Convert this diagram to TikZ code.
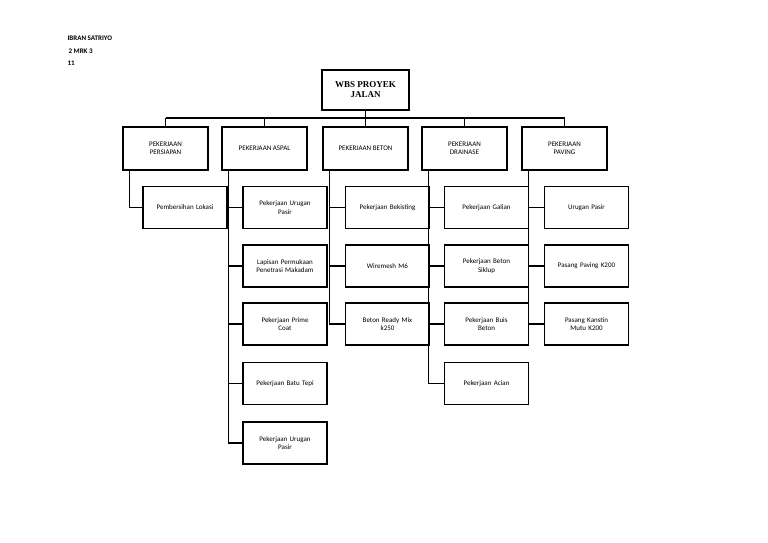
\documentclass[tikz,border=0pt]{standalone}
\usepackage{fontspec}
\setmainfont{Carlito}
\newfontfamily\rootfont{Liberation Serif}
\usetikzlibrary{positioning}

\tikzset{
  box/.style={draw,line width=1.2pt,align=center,font=\fontsize{7}{8.5}\selectfont,inner sep=1pt},
  top/.style={box,minimum width=85pt,minimum height=43pt},
  sub/.style={box,minimum width=84pt,minimum height=42pt,text width=82pt},
  link/.style={line width=1.2pt}
}

\begin{document}
\begin{tikzpicture}[x=1pt,y=-1pt]
  \useasboundingbox (0,0) rectangle (768,543);
  % header
  \node[anchor=west,font=\fontsize{7}{8}\bfseries\selectfont] (nama) at (64,38) {IBRAN SATRIYO};
  \node[anchor=west,font=\fontsize{7}{8}\bfseries\selectfont] (kelas) at (65,51) {2 MRK 3};
  \node[anchor=west,font=\fontsize{7}{8}\bfseries\selectfont] (absen) at (64,63) {11};

  \node[box,minimum width=87pt,minimum height=40pt,font=\rootfont\fontsize{9}{10}\bfseries\selectfont] (root) at (365.5,90) {WBS PROYEK\\JALAN};

  \node[top] (persiapan) at (165.5,148.5) {PEKERJAAN\\PERSIAPAN};
  \node[top] (aspal)     at (264.5,148.5) {PEKERJAAN ASPAL};
  \node[top] (beton)     at (365.5,148.5) {PEKERJAAN BETON};
  \node[top] (drainase)  at (464.5,148.5) {PEKERJAAN\\DRAINASE};
  \node[top] (paving)    at (564.5,148.5) {PEKERJAAN\\PAVING};

  \coordinate (bus) at (0,118);
  \draw[link] (root) -- (root |- bus);
  \draw[link] (persiapan.north |- bus) -- (paving.north |- bus);
  \foreach \t in {persiapan,aspal,beton,drainase,paving}
    \draw[link] (\t.north |- bus) -- (\t.north);

  % children
  \node[sub] (lokasi)   at (185,207.5) {Pembersihan Lokasi};

  \node[sub] (urugan)   at (285,207.5) {Pekerjaan Urugan\\Pasir};
  \node[sub] (lapisan)  at (285,266) {Lapisan Permukaan\\Penetrasi Makadam};
  \node[sub] (prime)    at (285,324) {Pekerjaan Prime\\Coat};
  \node[sub] (batu)     at (285,383.5) {Pekerjaan Batu Tepi};
  \node[sub] (urugan2)  at (285,443) {Pekerjaan Urugan\\Pasir};

  \node[sub] (bekisting) at (387.5,207.5) {Pekerjaan Bekisting};
  \node[sub] (wiremesh)  at (387.5,266) {Wiremesh M6};
  \node[sub] (readymix)  at (387.5,324) {Beton Ready Mix\\k250};

  \node[sub] (galian)    at (486.5,207.5) {Pekerjaan Galian};
  \node[sub] (siklup)    at (486.5,266) {Pekerjaan Beton\\Siklup};
  \node[sub] (buis)      at (486.5,324) {Pekerjaan Buis\\Beton};
  \node[sub] (acian)     at (486.5,383.5) {Pekerjaan Acian};

  \node[sub] (urpasir)   at (586.5,207.5) {Urugan Pasir};
  \node[sub] (paving200) at (586.5,266) {Pasang Paving K200};
  \node[sub] (kanstin)   at (586.5,324) {Pasang Kanstin\\Mutu K200};

  \foreach \t/\kids/\last in {persiapan/lokasi/lokasi,
      aspal/{urugan,lapisan,prime,batu,urugan2}/urugan2,
      beton/{bekisting,wiremesh,readymix}/readymix,
      drainase/{galian,siklup,buis,acian}/acian,
      paving/{urpasir,paving200,kanstin}/kanstin} {
    \draw[link] ([xshift=7pt]\t.south west) |- (\last.west);
    \foreach \k in \kids
      \draw[link] ([xshift=7pt]\t.south west |- \k.west) -- (\k.west);
  }
\end{tikzpicture}
\end{document}
